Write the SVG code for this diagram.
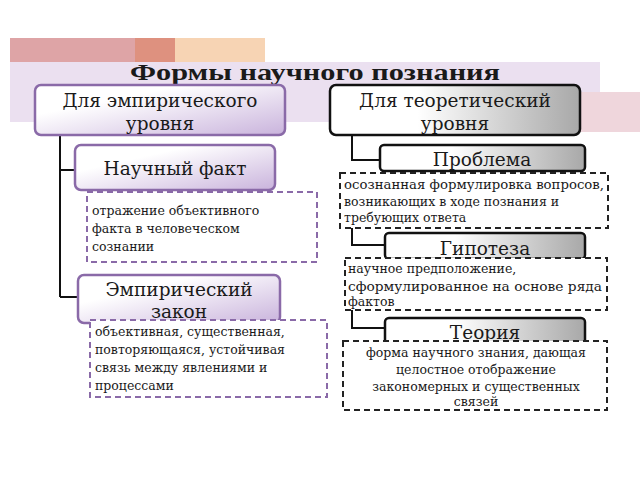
<svg xmlns="http://www.w3.org/2000/svg" width="640" height="480" viewBox="0 0 640 480">
<defs>
<linearGradient id="gp" x1="0" y1="0" x2="1" y2="1"><stop offset="0.3" stop-color="#ffffff"/><stop offset="1" stop-color="#c9b3dc"/></linearGradient>
<linearGradient id="gg" x1="0" y1="0" x2="1" y2="0"><stop offset="0.35" stop-color="#ffffff"/><stop offset="1" stop-color="#a8a8a8"/></linearGradient>
<style>
text{font-family:"DejaVu Serif","Liberation Serif",serif;fill:#1a1a1a}
.h{font-size:18.5px;text-anchor:middle}
.d{font-size:12.5px}
.pb{fill:url(#gp);stroke:#8a6aa8;stroke-width:2.5}
.gb{fill:url(#gg);stroke:#111;stroke-width:2.5}
.pd{fill:#fff;stroke:#8a6aa8;stroke-width:2;stroke-dasharray:6 4}
.kd{fill:#fff;stroke:#222;stroke-width:2;stroke-dasharray:6 4}
.ln{fill:none;stroke:#111;stroke-width:2}
</style>
</defs>
<rect width="640" height="480" fill="#fff"/>
<rect x="10" y="38" width="200" height="24" fill="#dea4a6"/>
<rect x="135" y="38" width="40" height="24" fill="#de917f"/>
<rect x="175" y="38" width="90" height="24" fill="#f7d4b4"/>
<rect x="10" y="62" width="590" height="60" fill="#ebe0f0"/>
<rect x="570" y="92" width="70" height="40" fill="#efd6dc"/>
<text x="315" y="80" text-anchor="middle" font-size="23" font-weight="bold" style="font-family:'Liberation Serif',serif" textLength="370" lengthAdjust="spacingAndGlyphs">Формы научного познания</text>
<g id="connectors">
<path class="ln" d="M60 135V297M60 170H75M60 297H78"/>
<path class="ln" d="M352 135V160H380M352 228V245H385M352 310V328H385"/>
</g>
<g id="emp"><rect class="pb" x="35" y="85" width="250" height="50" rx="6"/><text class="h" x="160" y="107">Для эмпирического</text><text class="h" x="160" y="130">уровня</text></g>
<g id="teor"><rect class="gb" x="330" y="85" width="250" height="50" rx="6"/><text class="h" x="455" y="107">Для теоретический</text><text class="h" x="455" y="130">уровня</text></g>
<g id="fact"><rect class="pb" x="75" y="145" width="200" height="45" rx="6"/><text class="h" x="175" y="175">Научный факт</text></g>
<g id="factd"><rect class="pd" x="87" y="192" width="230" height="70"/><text class="d" x="92" y="215">отражение объективного</text><text class="d" x="92" y="233">факта в человеческом</text><text class="d" x="92" y="251">сознании</text></g>
<g id="law"><rect class="pb" x="78" y="275" width="202" height="48" rx="6"/><text class="h" x="179" y="296">Эмпирический</text><text class="h" x="179" y="318">закон</text></g>
<g id="lawd"><rect class="pd" x="90" y="320" width="237" height="77"/><text class="d" x="95" y="336">объективная, существенная,</text><text class="d" x="95" y="354">повторяющаяся, устойчивая</text><text class="d" x="95" y="372">связь между явлениями и</text><text class="d" x="95" y="390">процессами</text></g>
<g id="prob"><rect class="gb" x="380" y="145" width="205" height="26" rx="4"/><text class="h" x="482" y="166">Проблема</text></g>
<g id="probd"><rect class="kd" x="340" y="173" width="268" height="55"/><text class="d" x="344" y="189" textLength="260" lengthAdjust="spacingAndGlyphs">осознанная формулировка вопросов,</text><text class="d" x="344" y="206">возникающих в ходе познания и</text><text class="d" x="344" y="222">требующих ответа</text></g>
<g id="hyp"><rect class="gb" x="385" y="233" width="200" height="26" rx="4"/><text class="h" x="485" y="255">Гипотеза</text></g>
<g id="hypd"><rect class="kd" x="345" y="258" width="262" height="52"/><text class="d" x="348" y="273">научное предположение,</text><text class="d" x="348" y="291" textLength="254" lengthAdjust="spacingAndGlyphs">сформулированное на основе ряда</text><text class="d" x="348" y="306">фактов</text></g>
<g id="theo"><rect class="gb" x="385" y="318" width="200" height="26" rx="4"/><text class="h" x="485" y="339">Теория</text></g>
<g id="theod"><rect class="kd" x="343" y="341" width="264" height="69"/><text class="d" x="476" y="357" text-anchor="middle">форма научного знания, дающая</text><text class="d" x="476" y="374" text-anchor="middle">целостное отображение</text><text class="d" x="476" y="391" text-anchor="middle">закономерных и существенных</text><text class="d" x="476" y="406" text-anchor="middle">связей</text></g>
</svg>
